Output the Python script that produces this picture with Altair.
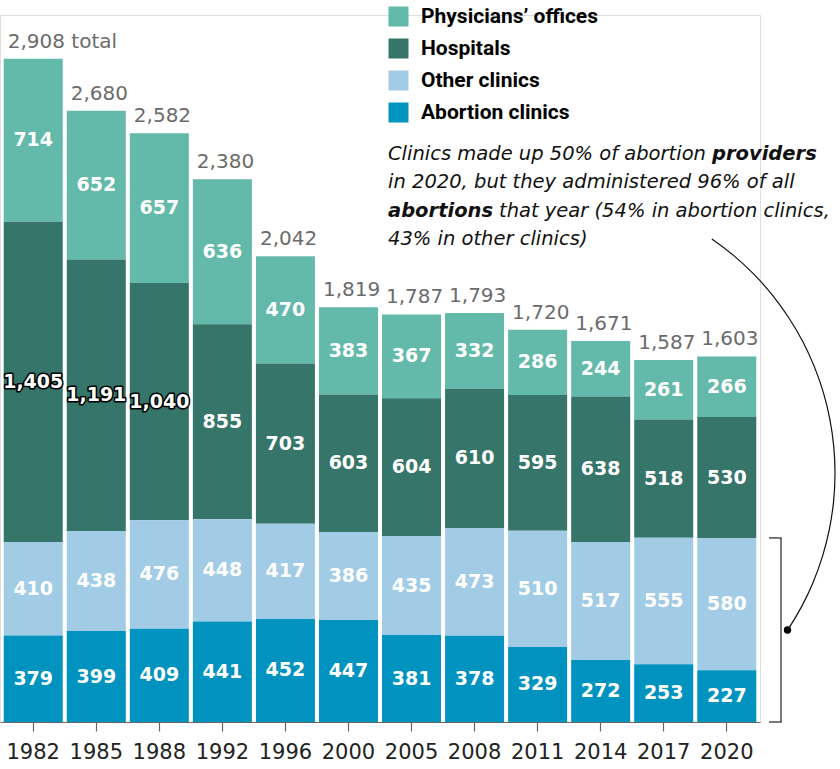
import altair as alt
import pandas as pd

# Abortion providers by type, 1982-2020
years = ["1982", "1985", "1988", "1992", "1996", "2000", "2005", "2008", "2011", "2014", "2017", "2020"]
physicians = [714, 652, 657, 636, 470, 383, 367, 332, 286, 244, 261, 266]
hospitals = [1405, 1191, 1040, 855, 703, 603, 604, 610, 595, 638, 518, 530]
other_clinics = [410, 438, 476, 448, 417, 386, 435, 473, 510, 517, 555, 580]
abortion_clinics = [379, 399, 409, 441, 452, 447, 381, 378, 329, 272, 253, 227]

series_names = ["Physicians’ offices", "Hospitals", "Other clinics", "Abortion clinics"]
series_values = [physicians, hospitals, other_clinics, abortion_clinics]
series_colors = ["#63b9aa", "#36756a", "#a2cce5", "#0093bf"]

FONT = "DejaVu Sans"
LEGEND_FONT = "Roboto"

rows = []
for name, vals in zip(series_names, series_values):
    for yr, v in zip(years, vals):
        rows.append({
            "year": yr,
            "type": name,
            "value": v,
            "rank": 3 - series_names.index(name),  # abortion clinics at the bottom
            "label": f"{v:,}",
            "wide": v >= 1000,
        })
df = pd.DataFrame(rows)

totals = [sum(t) for t in zip(*series_values)]
tot_df = pd.DataFrame({
    "year": years,
    "total": totals,
    "label": [f"{t:,}" + (" total" if i == 0 else "") for i, t in enumerate(totals)],
})

# clinics in the latest year (abortion + other clinics), marked with a bracket
clinic_2020 = abortion_clinics[-1] + other_clinics[-1]
bracket_df = pd.DataFrame({"lo": [0], "hi": [clinic_2020], "mid": [clinic_2020 / 2]})

x_enc = alt.X(
    "year:N",
    sort=years,
    title=None,
    scale=alt.Scale(paddingInner=0.064, paddingOuter=0.059),
    axis=alt.Axis(
        labelAngle=0, labelFont=FONT, labelFontSize=21, labelColor="#222",
        tickColor="#666", domainColor="#666", tickSize=9, labelPadding=10,
        domainWidth=1, tickWidth=1.2,
    ),
)
y_scale = alt.Scale(domain=[0, 3100], nice=False, zero=True)

base = alt.Chart(df)

bars = base.mark_bar().encode(
    x=x_enc,
    y=alt.Y("sum(value):Q", scale=y_scale, axis=None, stack="zero"),
    color=alt.Color(
        "type:N",
        scale=alt.Scale(domain=series_names, range=series_colors),
        legend=alt.Legend(
            title=None, orient="none", legendX=388, legendY=-9,
            symbolType="square", symbolSize=400, symbolStrokeWidth=0,
            labelFont=LEGEND_FONT, labelFontSize=21, labelFontWeight="bold", labelColor="#000",
            labelLimit=0, rowPadding=10, labelOffset=12, padding=0, symbolOpacity=1,
        ),
    ),
    order=alt.Order("rank:Q", sort="ascending"),
)

stacked = base.transform_stack(
    stack="value", groupby=["year"], as_=["v0", "v1"],
    sort=[alt.SortField("rank", order="ascending")],
).transform_calculate(mid="(datum.v0 + datum.v1) / 2")

label_y = alt.Y("mid:Q", scale=y_scale, axis=None)

outline = stacked.transform_filter("datum.wide").mark_text(
    font=FONT, fontSize=19, fontWeight="bold", color="black",
    stroke="black", strokeWidth=3.2, strokeJoin="round",
).encode(x=x_enc, y=label_y, text="label:N")

values = stacked.mark_text(
    font=FONT, fontSize=19, fontWeight="bold", color="white",
).encode(x=x_enc, y=label_y, text="label:N")

total_text = alt.Chart(tot_df).mark_text(
    font=FONT, fontSize=20, color="#6b6b6b",
    align="left", baseline="alphabetic", dx=4, dy=-11,
).encode(
    x=alt.X("year:N", sort=years, bandPosition=0),
    y=alt.Y("total:Q", scale=y_scale, axis=None),
    text="label:N",
)

# bracket around the clinic segments of the last bar
bracket_v = alt.Chart(bracket_df).mark_rule(color="#222", strokeWidth=1.2).encode(
    x=alt.value(781), y=alt.Y("lo:Q", scale=y_scale, axis=None), y2="hi:Q",
)
bracket_top = alt.Chart(bracket_df).mark_rule(color="#222", strokeWidth=1.2).encode(
    x=alt.value(769), x2=alt.value(781.6), y=alt.Y("hi:Q", scale=y_scale, axis=None),
)
bracket_bottom = alt.Chart(bracket_df).mark_rule(color="#222", strokeWidth=1.2).encode(
    x=alt.value(769), x2=alt.value(781.6), y=alt.Y("lo:Q", scale=y_scale, axis=None),
)
dot = alt.Chart(bracket_df).mark_point(filled=True, color="black", size=55, opacity=1).encode(
    x=alt.value(787.5), y=alt.Y("mid:Q", scale=y_scale, axis=None),
)

# curved connector from the note down to the bracket
connector = alt.Chart(bracket_df).mark_arc(
    radius=284.6, radius2=283.4, theta=0.602, theta2=2.159, color="#111",
).encode(x=alt.value(551), y=alt.value(458))

# note text, with bold words drawn as separate runs
note_style = dict(font=FONT, fontSize=19.5, fontStyle="italic", color="#111",
                  align="left", baseline="alphabetic")
note_bold = dict(note_style, fontWeight="bold")
note = alt.Chart(bracket_df)
note_layers = [
    note.mark_text(text="Clinics made up 50% of abortion", **note_style).encode(x=alt.value(388), y=alt.value(145)),
    note.mark_text(text="providers", **note_bold).encode(x=alt.value(712), y=alt.value(145)),
    note.mark_text(text="in 2020, but they administered 96% of all", **note_style).encode(x=alt.value(388), y=alt.value(173)),
    note.mark_text(text="abortions", **note_bold).encode(x=alt.value(388), y=alt.value(202)),
    note.mark_text(text="that year (54% in abortion clinics,", **note_style).encode(x=alt.value(499), y=alt.value(202)),
    note.mark_text(text="43% in other clinics)", **note_style).encode(x=alt.value(388), y=alt.value(230)),
]

chart = alt.layer(
    bars, outline, values, total_text,
    bracket_v, bracket_top, bracket_bottom, dot, connector, *note_layers,
).properties(
    width=760, height=707,
    autosize=alt.AutoSizeParams(type="none"),
    padding={"left": 0, "top": 15, "right": 80, "bottom": 47},
).configure_view(stroke=None).configure(background="white")

chart.save("out.html", embed_options={"renderer": "svg", "actions": False})
